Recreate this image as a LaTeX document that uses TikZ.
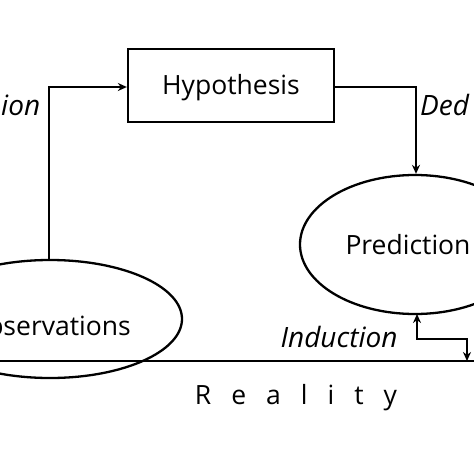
\documentclass[tikz,border=0pt]{standalone}
\usepackage{fontspec}
\setmainfont{Open Sans}
\usetikzlibrary{arrows.meta,shapes.geometric}
\begin{document}
\begin{tikzpicture}[x=1pt,y=-1pt,
  line/.style={line width=2.3pt},
  tip/.tip={Stealth[length=9pt,width=8pt]},
  arr/.style={line,-tip},
  lbl/.style={font=\fontsize{26.5}{30}\selectfont, inner sep=0pt},
  ilbl/.style={font=\fontsize{28}{32}\selectfont\itshape, inner sep=0pt},
  oval/.style={ellipse, draw, line, inner sep=0pt}]
\useasboundingbox (0,0) rectangle (474,474);
\clip (0,0) rectangle (474,474);
\node[draw, line, minimum width=206pt, minimum height=73pt, inner sep=0pt] (hyp) at (231,85.5) {};
\node[lbl] (hyptext) at (231,88) {Hypothesis};
\node[oval, minimum width=230pt, minimum height=139pt] (pred) at (415,244.5) {};
\node[lbl] (predtext) at (408,245) {Prediction};
\node[oval, minimum width=264pt, minimum height=118pt] (obs) at (50,319) {};
\node[lbl, anchor=east] (obstext) at (131,326) {Observations};
\coordinate (rl) at (0,361);
\coordinate (rr) at (474,361);
\draw[line] (rl) -- (rr);
\node[lbl] (real) at (296,398) {R\hspace{20pt}e\hspace{20pt}a\hspace{20pt}l\hspace{20pt}i\hspace{20pt}t\hspace{20pt}y};
\node[ilbl, anchor=west] (abd) at (1,105) {ion};
\node[ilbl, anchor=west] (ded) at (420,105) {Ded};
\node[ilbl] (ind) at (339,337) {Induction};
\coordinate (ltop) at (49,87);
\draw[arr] (49,260) -- (ltop) -- (hyp.west |- ltop);
\coordinate (rtop) at (416,87);
\draw[arr] (hyp.east |- rtop) -- (rtop) -- (pred.north -| rtop);
\coordinate (ia) at (417,339);
\coordinate (ib) at (467,339);
\coordinate (ic) at (467,361);
\draw[line,tip-tip] (417,314) -- (ia) -- (ib) -- (ic);
\end{tikzpicture}
\end{document}
